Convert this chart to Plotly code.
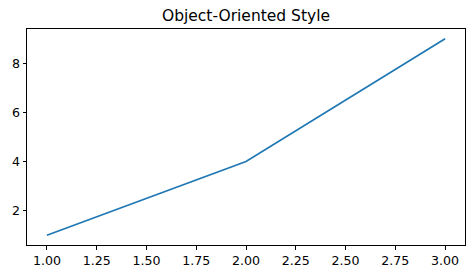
import plotly.graph_objects as go

x_vals = [1, 2, 3]
y_vals = [1, 4, 9]
x_ticks = [1.0, 1.25, 1.5, 1.75, 2.0, 2.25, 2.5, 2.75, 3.0]
x_tick_labels = ["1.00", "1.25", "1.50", "1.75", "2.00", "2.25", "2.50", "2.75", "3.00"]
y_ticks = [2, 4, 6, 8]

fig = go.Figure(go.Scatter(x=x_vals, y=y_vals, mode="lines",
                           line=dict(color="#1f77b4", width=1.7)))
axis_common = dict(showline=True, linecolor="black", linewidth=1, mirror=True,
                   ticks="outside", ticklen=3.5, tickwidth=1, tickcolor="black",
                   showgrid=False, zeroline=False,
                   tickfont=dict(family="DejaVu Sans", size=12.6, color="black"))
fig.update_xaxes(range=[0.9, 3.1], tickvals=x_ticks, ticktext=x_tick_labels, **axis_common)
fig.update_yaxes(range=[0.6, 9.4], tickvals=y_ticks, **axis_common)
fig.update_layout(
    width=474, height=277,
    margin=dict(l=27, r=9, t=29, b=32),
    paper_bgcolor="white", plot_bgcolor="white",
    title=dict(text="Object-Oriented Style", x=0.5, xref="paper", y=1 - 16/277,
               yanchor="middle", xanchor="center",
               font=dict(family="DejaVu Sans", size=15.5, color="black")),
    showlegend=False,
)
fig.write_html("out.html")
